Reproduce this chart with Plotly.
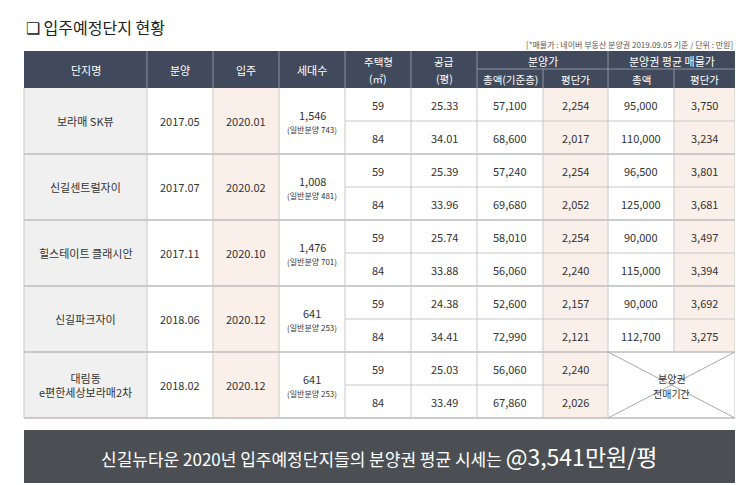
import plotly.graph_objects as go

names = ["보라매 SK뷰", "신길센트럴자이", "힐스테이트 클래시안", "신길파크자이", "대림동<br>e편한세상보라매2차"]
sale_dates = ["2017.05", "2017.07", "2017.11", "2018.06", "2018.02"]
move_dates = ["2020.01", "2020.02", "2020.10", "2020.12", "2020.12"]
households = ["1,546", "1,008", "1,476", "641", "641"]
general = ["(일반분양 743)", "(일반분양 481)", "(일반분양 701)", "(일반분양 253)", "(일반분양 253)"]
types = [["59", "84"]] * 5
supply = [["25.33", "34.01"], ["25.39", "33.96"], ["25.74", "33.88"], ["24.38", "34.41"], ["25.03", "33.49"]]
sale_total = [["57,100", "68,600"], ["57,240", "69,680"], ["58,010", "56,060"], ["52,600", "72,990"], ["56,060", "67,860"]]
sale_py = [["2,254", "2,017"], ["2,254", "2,052"], ["2,254", "2,240"], ["2,157", "2,121"], ["2,240", "2,026"]]
mkt_total = [["95,000", "110,000"], ["96,500", "125,000"], ["90,000", "115,000"], ["90,000", "112,700"], None]
mkt_py = [["3,750", "3,234"], ["3,801", "3,681"], ["3,497", "3,394"], ["3,692", "3,275"], None]

X = [16, 139, 205, 271, 337, 403, 469, 535, 600, 666, 727]
HT, HM, HB = 43, 61, 80
RH = 66
NAVY = "#404a5c"; PINK = "#fbefea"; GRAY = "#f0f0f0"; LINE = "#c8c8c8"
FONT = "Noto Sans CJK KR"

shapes, ann = [], []
def rect(x0, y0, x1, y1, fill, line=None, w=1):
    shapes.append(dict(type="rect", x0=x0, x1=x1, y0=y0, y1=y1, fillcolor=fill,
                       line=dict(color=line or fill, width=w if line else 0), layer="below"))
def seg(x0, y0, x1, y1, c=LINE, w=1):
    shapes.append(dict(type="line", x0=x0, x1=x1, y0=y0, y1=y1, line=dict(color=c, width=w)))
def txt(x, y, t, size=11, color="#333", xa="center", **kw):
    ann.append(dict(x=x, y=y, text=t, showarrow=False, xanchor=xa, yanchor="middle",
                    font=dict(size=size, color=color, family=FONT), **kw))

txt(16, 19, "❑ 입주예정단지 현황", size=16, color="#222", xa="left")
txt(727, 36, "[*매물가 : 네이버 부동산 분양권 2019.09.05 기준 / 단위 : 만원]", size=8, color="#555", xa="right")

rect(X[0], HT, X[-1], HB, NAVY)
for i in range(1, 10):
    top = HM if i in (7, 9) else HT
    seg(X[i], top, X[i], HB, "#8a93a3")
seg(X[6], HM, X[-1], HM, "#8a93a3")
W = "white"
for i, h in enumerate(["단지명", "분양", "입주", "세대수"]):
    txt((X[i] + X[i+1]) / 2, (HT + HB) / 2, h, 11, W)
txt((X[4] + X[5]) / 2, (HT + HB) / 2 - 8, "주택형", 10.5, W)
txt((X[4] + X[5]) / 2, (HT + HB) / 2 + 9, "(㎡)", 10.5, W)
txt((X[5] + X[6]) / 2, (HT + HB) / 2 - 8, "공급", 10.5, W)
txt((X[5] + X[6]) / 2, (HT + HB) / 2 + 9, "(평)", 10.5, W)
txt((X[6] + X[8]) / 2, (HT + HM) / 2 + 1, "분양가", 11, W)
txt((X[8] + X[10]) / 2, (HT + HM) / 2 + 1, "분양권 평균 매물가", 11, W)
for i, h in zip(range(6, 10), ["총액(기준층)", "평단가", "총액", "평단가"]):
    txt((X[i] + X[i+1]) / 2, (HM + HB) / 2 + 1, h, 10.5, W)

for r in range(5):
    y0 = HB + r * RH; y1 = y0 + RH; ym = (y0 + y1) / 2
    rect(X[0], y0, X[1], y1, GRAY)
    rect(X[2], y0, X[3], y1, PINK)
    rect(X[7], y0, X[8], y1, PINK)
    if mkt_py[r] is not None:
        rect(X[9], y0, X[10], y1, PINK)
    txt((X[0] + X[1]) / 2, ym, names[r], 11)
    txt((X[1] + X[2]) / 2, ym, sale_dates[r], 11)
    txt((X[2] + X[3]) / 2, ym, move_dates[r], 11)
    txt((X[3] + X[4]) / 2, ym - 6, households[r], 11)
    txt((X[3] + X[4]) / 2, ym + 8, general[r], 8)
    for k in range(2):
        yc = y0 + RH / 4 + k * RH / 2
        txt((X[4] + X[5]) / 2, yc, types[r][k], 11)
        txt((X[5] + X[6]) / 2, yc, supply[r][k], 11)
        txt((X[6] + X[7]) / 2, yc, sale_total[r][k], 11)
        txt((X[7] + X[8]) / 2, yc, sale_py[r][k], 11)
        if mkt_total[r] is not None:
            txt((X[8] + X[9]) / 2, yc, mkt_total[r][k], 11)
            txt((X[9] + X[10]) / 2, yc, mkt_py[r][k], 11)
    right = X[10] if mkt_total[r] is not None else X[8]
    seg(X[4], ym, right, ym)
    seg(X[0], y1, X[-1], y1, "#bdbdbd", 1.5)
    if mkt_total[r] is None:
        seg(X[8], y0, X[10], y1, "#aaa"); seg(X[8], y1, X[10], y0, "#aaa")
        txt((X[8] + X[10]) / 2, ym - 7, "분양권", 10)
        txt((X[8] + X[10]) / 2, ym + 8, "전매기간", 10)
    for i in range(1, 10):
        if mkt_total[r] is None and i == 9:
            continue
        seg(X[i], y0, X[i], y1)
seg(X[0], HB, X[0], HB + 5 * RH); seg(X[-1], HB, X[-1], HB + 5 * RH)

rect(16, 422, 727, 475, "#4b4f54")
txt(371, 448, "신길뉴타운 2020년 입주예정단지들의 분양권 평균 시세는 <span style='font-size:23px'>@3,541만원/평</span>", 17, "white")

fig = go.Figure()
fig.update_layout(width=743, height=485, margin=dict(l=0, r=0, t=0, b=0),
                  paper_bgcolor="white", plot_bgcolor="white", shapes=shapes, annotations=ann,
                  xaxis=dict(range=[0, 743], visible=False, fixedrange=True),
                  yaxis=dict(range=[485, 0], visible=False, fixedrange=True), showlegend=False)
fig.write_html("out.html")
